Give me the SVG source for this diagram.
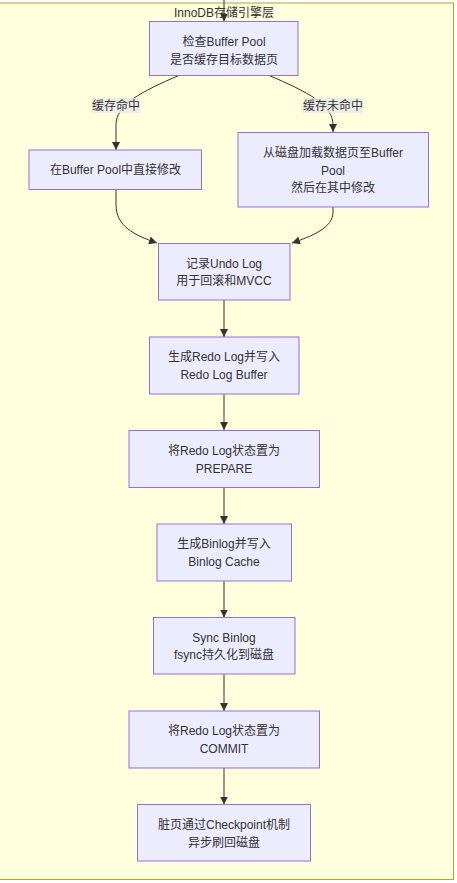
<svg xmlns="http://www.w3.org/2000/svg" width="457" height="883" viewBox="0 0 457 883">
<style>
.node rect{fill:#ECECFF;stroke:#9370DB;stroke-width:1}
text{font-family:"Liberation Sans","Noto Sans CJK SC",sans-serif;font-size:12px;fill:#333;text-anchor:middle}
.edge{fill:none;stroke:#333;stroke-width:1}
.lbl{fill:#e8e8e8;opacity:0.8}
</style>
<defs>
<marker id="arr" viewBox="0 0 10 10" refX="10" refY="5" markerWidth="8" markerHeight="8" markerUnits="userSpaceOnUse" orient="auto">
<path d="M0,0 L10,5 L0,10 z" fill="#333"/>
</marker>
</defs>
<rect width="457" height="883" fill="#ffffff"/>
<g id="cluster">
<rect x="-10" y="3" width="463.5" height="876.5" fill="#ffffde" stroke="#aaaa33" stroke-width="1"/>
<text x="224" y="17">InnoDB存储引擎层</text>
</g>
<g id="connectors">
<path class="edge" d="M224,0 L224,21.5" marker-end="url(#arr)"/>
<path class="edge" d="M180,75 C140,92 116,105 116,125 L116,150" marker-end="url(#arr)"/>
<path class="edge" d="M268,75 C308,92 333,105 333,125 L333,132" marker-end="url(#arr)"/>
<path class="edge" d="M116,189.5 L116,205 C116,226 134,235 157,243" marker-end="url(#arr)"/>
<path class="edge" d="M333,207 L333,212 C333,228 312,236 292,243" marker-end="url(#arr)"/>
<path class="edge" d="M224,300 L224,337" marker-end="url(#arr)"/>
<path class="edge" d="M224,394 L224,430" marker-end="url(#arr)"/>
<path class="edge" d="M224,487.5 L224,524" marker-end="url(#arr)"/>
<path class="edge" d="M224,581 L224,617.5" marker-end="url(#arr)"/>
<path class="edge" d="M224,674 L224,711" marker-end="url(#arr)"/>
<path class="edge" d="M224,768 L224,804.5" marker-end="url(#arr)"/>
<g id="label-hit">
<rect class="lbl" x="92" y="98" width="48" height="15"/>
<text x="116" y="110">缓存命中</text>
</g>
<g id="label-miss">
<rect class="lbl" x="303" y="98" width="60" height="15"/>
<text x="333" y="110">缓存未命中</text>
</g>
</g>
<g id="n1" class="node">
<rect x="149.5" y="21.5" width="148.5" height="54"/>
<text x="224" y="46">检查Buffer Pool</text>
<text x="224" y="64">是否缓存目标数据页</text>
</g>
<g id="n2" class="node">
<rect x="29" y="150" width="172.5" height="39.5"/>
<text x="115.5" y="174">在Buffer Pool中直接修改</text>
</g>
<g id="n3" class="node">
<rect x="238" y="132.5" width="190.5" height="74.5"/>
<text x="333" y="157">从磁盘加载数据页至Buffer</text>
<text x="333" y="174.5">Pool</text>
<text x="333" y="192">然后在其中修改</text>
</g>
<g id="n4" class="node">
<rect x="158.5" y="243.5" width="131.5" height="56.5"/>
<text x="224" y="267.5">记录Undo Log</text>
<text x="224" y="285">用于回滚和MVCC</text>
</g>
<g id="n5" class="node">
<rect x="149.5" y="337" width="149.5" height="57"/>
<text x="224" y="361">生成Redo Log并写入</text>
<text x="224" y="379">Redo Log Buffer</text>
</g>
<g id="n6" class="node">
<rect x="129" y="430.5" width="190.5" height="57"/>
<text x="224" y="455">将Redo Log状态置为</text>
<text x="224" y="472.5">PREPARE</text>
</g>
<g id="n7" class="node">
<rect x="157" y="524" width="134.5" height="57"/>
<text x="224" y="548">生成Binlog并写入</text>
<text x="224" y="566">Binlog Cache</text>
</g>
<g id="n8" class="node">
<rect x="153.5" y="617.5" width="141.5" height="56.5"/>
<text x="224" y="641.5">Sync Binlog</text>
<text x="224" y="659">fsync持久化到磁盘</text>
</g>
<g id="n9" class="node">
<rect x="129" y="711" width="190.5" height="57"/>
<text x="224" y="735">将Redo Log状态置为</text>
<text x="224" y="753">COMMIT</text>
</g>
<g id="n10" class="node">
<rect x="137.5" y="804.5" width="173" height="56.5"/>
<text x="224" y="828.5">脏页通过Checkpoint机制</text>
<text x="224" y="846.5">异步刷回磁盘</text>
</g>
</svg>
